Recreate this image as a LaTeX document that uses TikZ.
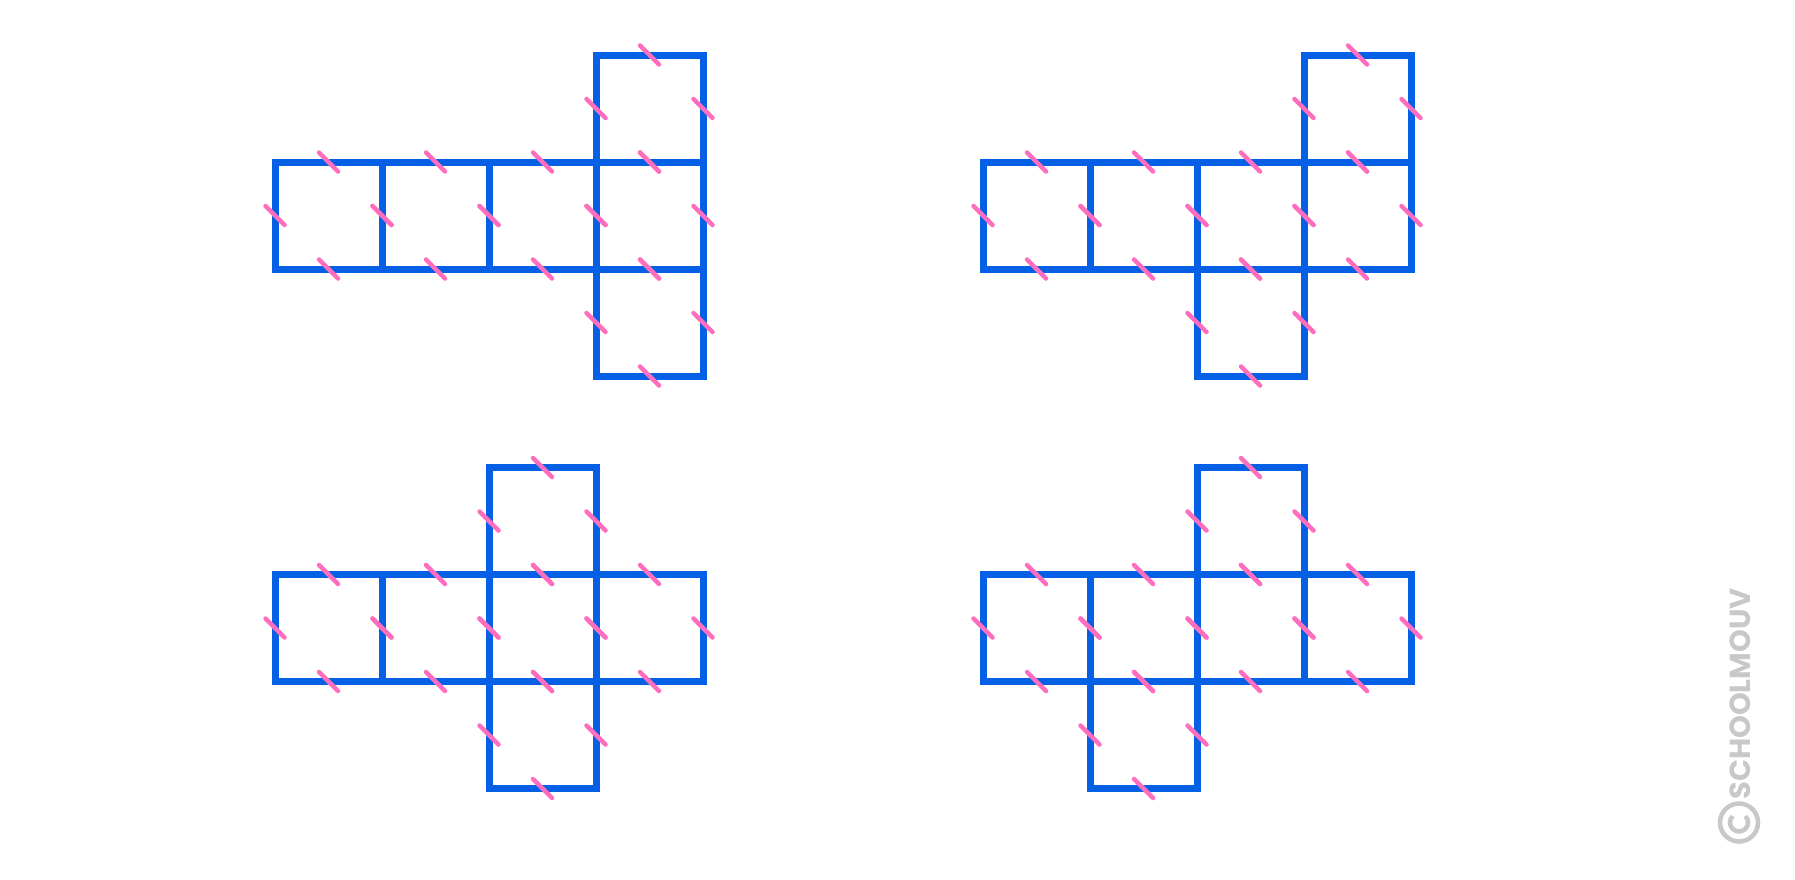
\documentclass[tikz,border=0pt]{standalone}
\usepackage{fontspec}
\newfontfamily\wmfont{Poppins}
\definecolor{netblue}{HTML}{0660E6}
\definecolor{tickpink}{HTML}{FF6EBE}
\definecolor{wmgray}{HTML}{C8C8C8}
\tikzset{
  facebox/.style={draw=netblue, line width=7pt, line join=miter},
  tickmark/.style={draw=tickpink, line width=4.5pt, line cap=round},
}
\begin{document}
\begin{tikzpicture}[x=1pt,y=-1pt]
\useasboundingbox[fill=white] (0,0) rectangle (1795,879);
\def\S{107}
% squares: x0/y0/col/row
\def\facelist{%
275/55/0/1, 275/55/1/1, 275/55/2/1, 275/55/3/1, 275/55/3/0, 275/55/3/2,
983/55/0/1, 983/55/1/1, 983/55/2/1, 983/55/3/1, 983/55/3/0, 983/55/2/2,
275/467.5/0/1, 275/467.5/1/1, 275/467.5/2/1, 275/467.5/3/1, 275/467.5/2/0, 275/467.5/2/2,
983/467.5/0/1, 983/467.5/1/1, 983/467.5/2/1, 983/467.5/3/1, 983/467.5/2/0, 983/467.5/1/2}
\foreach \xo/\yo/\c/\r in \facelist {
  \draw[facebox] ({\xo+\c*\S},{\yo+\r*\S}) rectangle ++(\S,\S);
}
\foreach \xo/\yo/\c/\r in \facelist {
  \pgfmathsetmacro\xa{\xo+\c*\S}
  \pgfmathsetmacro\ya{\yo+\r*\S}
  \draw[tickmark] ({\xa+\S/2-9.5},{\ya-9.5}) -- ++(19,19);
  \draw[tickmark] ({\xa+\S/2-9.5},{\ya+\S-9.5}) -- ++(19,19);
  \draw[tickmark] ({\xa-9.5},{\ya+\S/2-9.5}) -- ++(19,19);
  \draw[tickmark] ({\xa+\S-9.5},{\ya+\S/2-9.5}) -- ++(19,19);
}
% watermark
\node[rotate=90, text=wmgray, font=\wmfont\bfseries\fontsize{29}{29}\selectfont, inner sep=0pt] (wm) at (1740,694) {SCHOOLMOUV};
\coordinate (cc) at (1739,822.5);
\draw[wmgray, line width=4.5pt] (cc) circle[radius=19];
\draw[wmgray, line width=4.5pt] (cc) ++(-45:9) arc[start angle=-45, end angle=225, radius=9];
\end{tikzpicture}
\end{document}
